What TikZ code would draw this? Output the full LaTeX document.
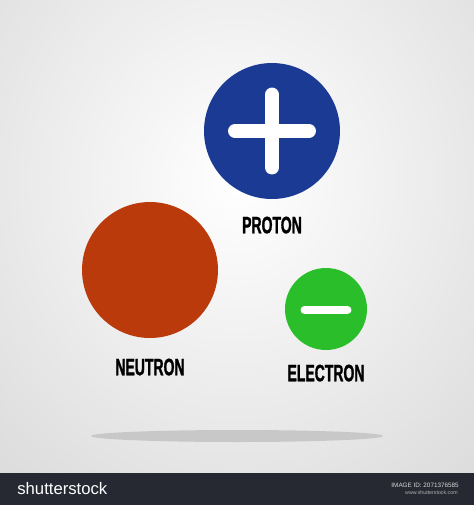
\documentclass[tikz,border=0pt]{standalone}
\usepackage{fontspec}
\usepackage{tikz}
\usetikzlibrary{positioning}
\setmainfont{Liberation Sans}
\newfontfamily\partfont[FakeStretch=0.59,FakeBold=1.2]{Liberation Sans}
\definecolor{protonblue}{RGB}{26,58,148}
\definecolor{neutronred}{RGB}{186,58,12}
\definecolor{electrongreen}{RGB}{42,190,42}
\definecolor{barblack}{RGB}{38,41,50}
\definecolor{bggray}{RGB}{212,212,212}
\definecolor{shadowgray}{RGB}{200,200,200}
\tikzstyle{particle}=[circle,inner sep=0pt,draw=none]
\tikzstyle{partname}=[inner sep=0pt,font=\partfont\bfseries\fontsize{13.5}{14}\selectfont]
\tikzstyle{sign}=[white,line cap=round]

\begin{document}
\begin{tikzpicture}[x=0.02cm,y=-0.02cm]
\useasboundingbox (0,0) rectangle (474,505);
% backdrop
\begin{scope}
    \clip (0,0) rectangle (474,473);
    \shade[inner color=white,outer color=bggray] (-200,-300) rectangle (674,660);
\end{scope}
\fill[shadowgray] (237,436) ellipse (146 and 6);
% particles
\node [particle,fill=protonblue,minimum size=2.72cm] (proton) at (272,131) {};
\node [particle,fill=neutronred,minimum size=2.72cm] (neutron) at (150,270) {};
\node [particle,fill=electrongreen,minimum size=1.64cm] (electron) at (326,309) {};
\draw [sign,line width=0.28cm] ([xshift=-0.74cm]proton.center) -- ([xshift=0.74cm]proton.center);
\draw [sign,line width=0.28cm] ([yshift=-0.73cm]proton.center) -- ([yshift=0.73cm]proton.center);
\draw [sign,line width=0.16cm] ([xshift=-0.43cm,yshift=-0.02cm]electron.center) -- ([xshift=0.43cm,yshift=-0.02cm]electron.center);
\node [partname,below=0.34cm of proton] (protonname) {PROTON};
\node [partname,below=0.4cm of neutron] (neutronname) {NEUTRON};
\node [partname,below=0.28cm of electron] (electronname) {ELECTRON};
% footer bar
\fill[barblack] (0,473) rectangle (474,505);
\node [white,anchor=west,inner sep=0pt,font=\fontsize{9.5}{10}\selectfont] (brand) at (17,489) {shutterstock};
\node [white!85!black,anchor=east,inner sep=0pt,font=\fontsize{3.6}{4}\selectfont] (imageid) at (459,485) {IMAGE ID: 2071376585};
\node [white!70!black,anchor=east,inner sep=0pt,font=\fontsize{3}{3.5}\selectfont] (site) at (458,492.5) {www.shutterstock.com};
\end{tikzpicture}
\end{document}
